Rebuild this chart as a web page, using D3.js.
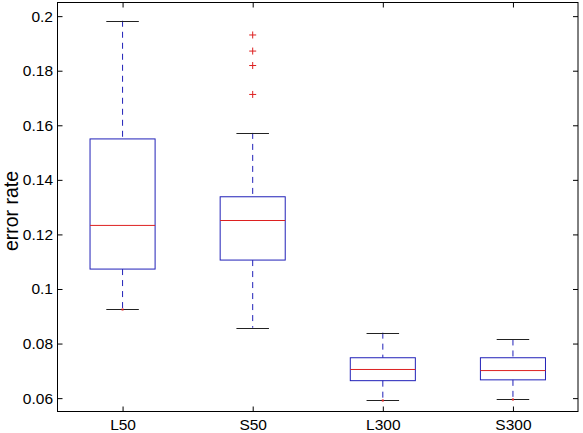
<!DOCTYPE html>
<html><head><meta charset="utf-8">
<script src="https://cdn.jsdelivr.net/npm/d3@7"></script>
<style>body{margin:0;background:#fff}svg{display:block}text{font-family:"Liberation Sans",Arial,sans-serif}</style>
</head><body><svg id="c" width="583" height="433"></svg>
<script>
const categories = ["L50","S50","L300","S300"];
const upperWhisker = [0.1983,0.1572,0.0840,0.0815];
const q3 = [0.1550,0.1338,0.0748,0.0748];
const median = [0.1233,0.1251,0.0705,0.0701];
const q1 = [0.1073,0.1106,0.0664,0.0667];
const lowerWhisker = [0.0927,0.0858,0.0592,0.0598];
const outliers = [[],[0.1931,0.1872,0.1819,0.1713],[],[]];
const yTicks = [0.06,0.08,0.1,0.12,0.14,0.16,0.18,0.2];

const svg = d3.select("#c");
const L=57.5,R=578,T=2.5,B=411.5;
const x = d3.scaleLinear().domain([0.5,4.5]).range([L,R]);
const y = d3.scaleLinear().domain([0.0551,0.205]).range([B,T]);
const blue="#2020b8", red="#dd2020", blk="#222";
const fs=15.5;

const g = svg.append("g");
g.append("rect").attr("x",L).attr("y",T).attr("width",R-L).attr("height",B-T)
 .attr("fill","none").attr("stroke","#000").attr("stroke-width",1);

const yl = g.append("g").attr("transform",`translate(${L},0)`)
  .call(d3.axisLeft(y).tickValues(yTicks).tickSizeInner(-5).tickSizeOuter(0).tickPadding(4.5).tickFormat(d=>String(+d.toFixed(2))));
yl.select(".domain").remove();
yl.selectAll("text").attr("font-size",fs).attr("fill","#000");
const yr = g.append("g").attr("transform",`translate(${R},0)`)
  .call(d3.axisRight(y).tickValues(yTicks).tickSizeInner(-5).tickSizeOuter(0).tickFormat(""));
yr.select(".domain").remove();
const xv=[1,2,3,4];
const xb = g.append("g").attr("transform",`translate(0,${B})`)
  .call(d3.axisBottom(x).tickValues(xv).tickSizeInner(-5).tickSizeOuter(0).tickPadding(7.5).tickFormat((d,i)=>categories[i]));
xb.select(".domain").remove();
xb.selectAll("text").attr("font-size",fs).attr("fill","#000");
const xt = g.append("g").attr("transform",`translate(0,${T})`)
  .call(d3.axisTop(x).tickValues(xv).tickSizeInner(-5).tickSizeOuter(0).tickFormat(""));
xt.select(".domain").remove();
g.selectAll(".tick line").attr("stroke","#000");

svg.append("text").attr("transform","translate(18,211) rotate(-90)")
  .attr("text-anchor","middle").attr("font-size",19.5).text("error rate");

const bw=0.25, cw=0.125;
categories.forEach((c,i)=>{
  const cx=x(i+1);
  const bg=svg.append("g");
  bg.append("line").attr("x1",cx).attr("x2",cx).attr("y1",y(upperWhisker[i])).attr("y2",y(q3[i]))
    .attr("stroke",blue).attr("stroke-dasharray","6,5");
  bg.append("line").attr("x1",cx).attr("x2",cx).attr("y1",y(q1[i])).attr("y2",y(lowerWhisker[i]))
    .attr("stroke",blue).attr("stroke-dasharray","6,5");
  [upperWhisker[i],lowerWhisker[i]].forEach(v=>{
    bg.append("line").attr("x1",x(i+1-cw)).attr("x2",x(i+1+cw)).attr("y1",Math.round(y(v))+0.5).attr("y2",Math.round(y(v))+0.5)
      .attr("stroke",blk);
  });
  bg.append("rect").attr("x",x(i+1-bw)).attr("width",x(i+1+bw)-x(i+1-bw))
    .attr("y",y(q3[i])).attr("height",y(q1[i])-y(q3[i]))
    .attr("fill","none").attr("stroke",blue);
  bg.append("line").attr("x1",x(i+1-bw)).attr("x2",x(i+1+bw)).attr("y1",y(median[i])).attr("y2",y(median[i]))
    .attr("stroke",red);
  outliers[i].forEach(v=>{
    const py=y(v);
    bg.append("path").attr("d",`M${cx-3.5},${py}H${cx+3.5}M${cx},${py-3.5}V${py+3.5}`).attr("stroke",red);
  });
  if(i!==1){
    bg.append("rect").attr("x",cx-1).attr("y",Math.round(y(lowerWhisker[i]))-0.5).attr("width",2).attr("height",2).attr("fill",red);
  }
});
</script></body></html>
